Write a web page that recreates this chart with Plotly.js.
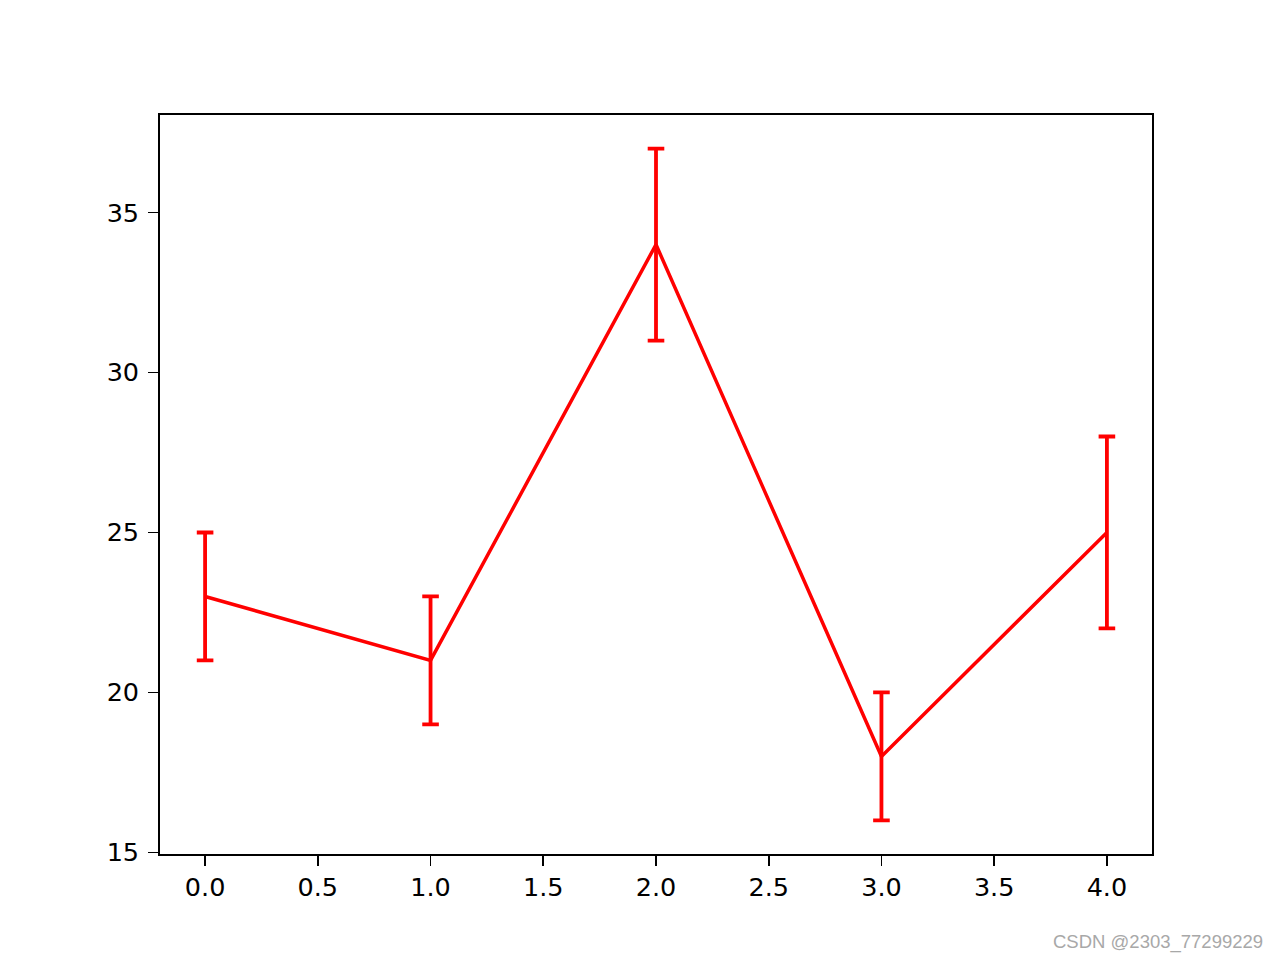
<!DOCTYPE html>
<html>
<head>
<meta charset="utf-8">
<script src="https://cdn.plot.ly/plotly-3.0.1.min.js"></script>
<style>html,body{margin:0;padding:0;background:#fff;}#chart{width:1280px;height:960px;}</style>
</head>
<body>
<div id="chart"></div>
<script>
const xValues = [0, 1, 2, 3, 4];
const yValues = [23, 21, 34, 18, 25];
const yErrors = [2, 2, 3, 2, 3];
const xTicks = [0, 0.5, 1, 1.5, 2, 2.5, 3, 3.5, 4];
const xTickLabels = ['0.0', '0.5', '1.0', '1.5', '2.0', '2.5', '3.0', '3.5', '4.0'];
const yTicks = [15, 20, 25, 30, 35];
const watermark = 'CSDN @2303_77299229';

const trace = {
  x: xValues, y: yValues, type: 'scatter', mode: 'lines',
  line: {color: '#ff0000', width: 3.5},
  error_y: {type: 'data', array: yErrors, visible: true, color: '#ff0000', thickness: 3.8, width: 8.3}
};
const axisCommon = {
  showgrid: false, zeroline: false, showline: true, mirror: true,
  linecolor: '#000', linewidth: 1.8, ticks: 'outside', ticklen: 10, tickwidth: 1.8, tickcolor: '#000',
  tickfont: {family: 'DejaVu Sans', size: 25.5, color: '#000'}
};
const layout = {
  width: 1280, height: 960, paper_bgcolor: '#fff', plot_bgcolor: '#fff',
  margin: {l: 160, r: 128, t: 115, b: 106},
  showlegend: false,
  xaxis: Object.assign({}, axisCommon, {range: [-0.2, 4.2], tickvals: xTicks, ticktext: xTickLabels}),
  yaxis: Object.assign({}, axisCommon, {range: [14.95, 38.05], tickvals: yTicks, ticklabelstandoff: 4}),
  annotations: [{
    text: watermark, xref: 'paper', yref: 'paper', x: 1.1139, y: -0.119,
    xanchor: 'right', yanchor: 'middle', showarrow: false,
    font: {family: 'Liberation Sans, Arial', size: 18.5, color: '#a8a8a8'}
  }]
};
Plotly.newPlot('chart', [trace], layout, {displayModeBar: false, staticPlot: true});
</script>
</body>
</html>
